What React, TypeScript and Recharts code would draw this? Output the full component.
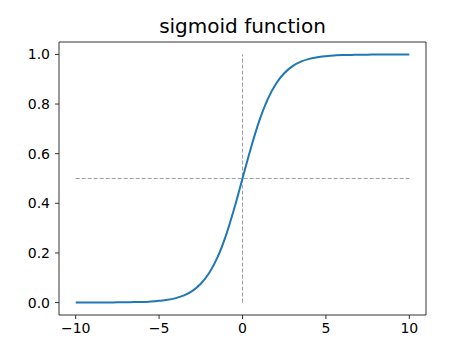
import React from 'react';
import { LineChart, Line, XAxis, YAxis, ReferenceLine, ReferenceArea } from 'recharts';

// Curve samples
const xValues = [
  -10, -9.5, -9, -8.5, -8, -7.5, -7, -6.5, -6, -5.5, -5, -4.5, -4, -3.5, -3, -2.5, -2, -1.5, -1, -0.5,
  0, 0.5, 1, 1.5, 2, 2.5, 3, 3.5, 4, 4.5, 5, 5.5, 6, 6.5, 7, 7.5, 8, 8.5, 9, 9.5, 10,
];
const yValues = [
  0.0, 0.0, 0.0, 0.0, 0.0, 0.001, 0.001, 0.002, 0.002, 0.004, 0.007, 0.011, 0.018, 0.029, 0.047, 0.076, 0.119, 0.182, 0.269, 0.378,
  0.5, 0.622, 0.731, 0.818, 0.881, 0.924, 0.953, 0.971, 0.982, 0.989, 0.993, 0.996, 0.998, 0.998, 0.999, 0.999, 1.0, 1.0, 1.0, 1.0, 1.0,
];
const xTicks = [-10, -5, 0, 5, 10];
const yTicks = [0, 0.2, 0.4, 0.6, 0.8, 1.0];
const title = 'sigmoid function';

const data = xValues.map((x, i) => ({ x, y: yValues[i] }));

const font = 'DejaVu Sans, sans-serif';
const tickStyle = { fill: '#000', fontSize: 14, fontFamily: font };

export default function App() {
  return (
    <div style={{ position: 'fixed', left: 0, top: 0, width: 474, height: 355, background: '#fff' }}>
      <div
        style={{
          position: 'absolute',
          left: 59,
          width: 367,
          top: 14,
          textAlign: 'center',
          fontFamily: font,
          fontSize: 20,
          lineHeight: '24px',
          color: '#000',
        }}
      >
        {title}
      </div>
      <LineChart width={474} height={355} data={data} margin={{ top: 42, right: 48, bottom: 0, left: 0 }}>
        <XAxis
          dataKey="x"
          type="number"
          domain={[-11, 11]}
          ticks={xTicks}
          tickFormatter={(v: number) => String(v).replace('-', '\u2212')}
          tick={tickStyle}
          tickSize={4}
          tickMargin={4}
          height={40}
          axisLine={false}
          tickLine={{ stroke: '#333' }}
          allowDataOverflow
        />
        <YAxis
          type="number"
          domain={[-0.05, 1.05]}
          ticks={yTicks}
          tickFormatter={(v: number) => v.toFixed(1)}
          tick={tickStyle}
          tickSize={4}
          tickMargin={5}
          width={59}
          axisLine={false}
          tickLine={{ stroke: '#333' }}
          allowDataOverflow
        />
        <ReferenceArea x1={-11} x2={11} y1={-0.05} y2={1.05} fill="none" stroke="#333" strokeWidth={1} />
        <ReferenceLine
          segment={[{ x: 0, y: 0 }, { x: 0, y: 1 }]}
          stroke="#9e9e9e"
          strokeDasharray="4 2"
          strokeWidth={1}
        />
        <ReferenceLine
          segment={[{ x: -10, y: 0.5 }, { x: 10, y: 0.5 }]}
          stroke="#9e9e9e"
          strokeDasharray="4 2"
          strokeWidth={1}
        />
        <Line
          dataKey="y"
          type="monotone"
          stroke="#1f77b4"
          strokeWidth={2}
          dot={false}
          isAnimationActive={false}
        />
      </LineChart>
    </div>
  );
}
